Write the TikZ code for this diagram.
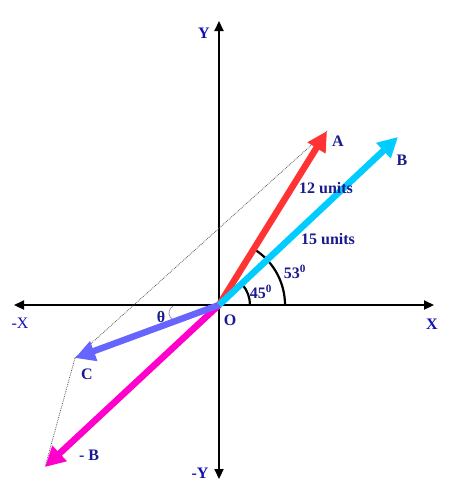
\documentclass[tikz,border=0pt]{standalone}
\usepackage{fontspec}
\setmainfont{Liberation Serif}
\usetikzlibrary{arrows.meta}
\definecolor{vecA}{HTML}{FF3333}
\definecolor{vecB}{HTML}{00CCFF}
\definecolor{vecC}{HTML}{6666FF}
\definecolor{vecMB}{HTML}{FF00CC}
\definecolor{lab}{HTML}{1A1A8C}
\definecolor{axlab}{HTML}{1010B4}
\tikzset{
  axis/.style={line width=2.2pt,-{Triangle[length=10pt,width=9pt]}},
  vec/.style={line width=6.5pt,-{Triangle[length=20pt,width=20pt]}},
  guide/.style={densely dotted,line width=0.8pt,gray!70!black},
  angarc/.style={line width=2.2pt,black},
  lbl/.style={text=lab,font=\fontsize{16}{18}\selectfont\bfseries,inner sep=0pt},
  axl/.style={text=axlab,font=\fontsize{16}{18}\selectfont\bfseries,inner sep=0pt},
}
\begin{document}
\begin{tikzpicture}[x=1pt,y=-1pt]
\useasboundingbox (0,0) rectangle (450,501);
\coordinate (O) at (219,305);
\coordinate (Xp) at (434,305);
\coordinate (Xm) at (14,305);
\coordinate (Yp) at (219,21);
\coordinate (Ym) at (219,479);
\coordinate (A) at (327,131);
\coordinate (B) at (398,137);
\coordinate (C) at (75,358);
\coordinate (MB) at (45,467);
\coordinate (thc) at (177,313);
% axes
\draw[axis] (O) -- (Xp);
\draw[axis] (O) -- (Xm);
\draw[axis] (O) -- (Yp);
\draw[axis] (O) -- (Ym);
% guide lines
\draw[guide] (A) -- (C);
\draw[guide] (C) -- (MB);
% angle arcs
\draw[angarc] ([xshift=66pt]O) arc[start angle=0,end angle=57,radius=66pt];
\draw[angarc] ([xshift=31pt]O) arc[start angle=0,end angle=41,radius=31pt];
\draw[gray!80,line width=0.8pt] ([shift={(-4,-6.9)}]thc) arc[start angle=120,end angle=240,radius=8pt];
% vectors
\draw[vec,vecMB] (O) -- (MB);
\draw[vec,vecC] (O) -- (C);
\draw[vec,vecA] (O) -- (A);
\draw[vec,vecB] (O) -- (B);
% labels
\node[axl] (lY) at (204,33) {Y};
\node[axl] (lmY) at (200,473) {-Y};
\node[axl,font=\fontsize{16}{18}\selectfont] (lmX) at (20,323) {-X};
\node[axl] (lX) at (432,324) {X};
\node[lbl] (lO) at (230,320) {O};
\node[lbl] (lA) at (338,141) {A};
\node[lbl] (lB) at (402,160) {B};
\node[lbl] (l12) at (326,188) {12 units};
\node[lbl] (l15) at (328,239) {15 units};
\node[lbl] (l53) at (295,272) {53\textsuperscript{0}};
\node[lbl] (l45) at (261,292) {45\textsuperscript{0}};
\node[lbl] (lth) at (161,317) {θ};
\node[lbl] (lC) at (87,374) {C};
\node[lbl] (lmB) at (89,455) {- B};
\end{tikzpicture}
\end{document}
